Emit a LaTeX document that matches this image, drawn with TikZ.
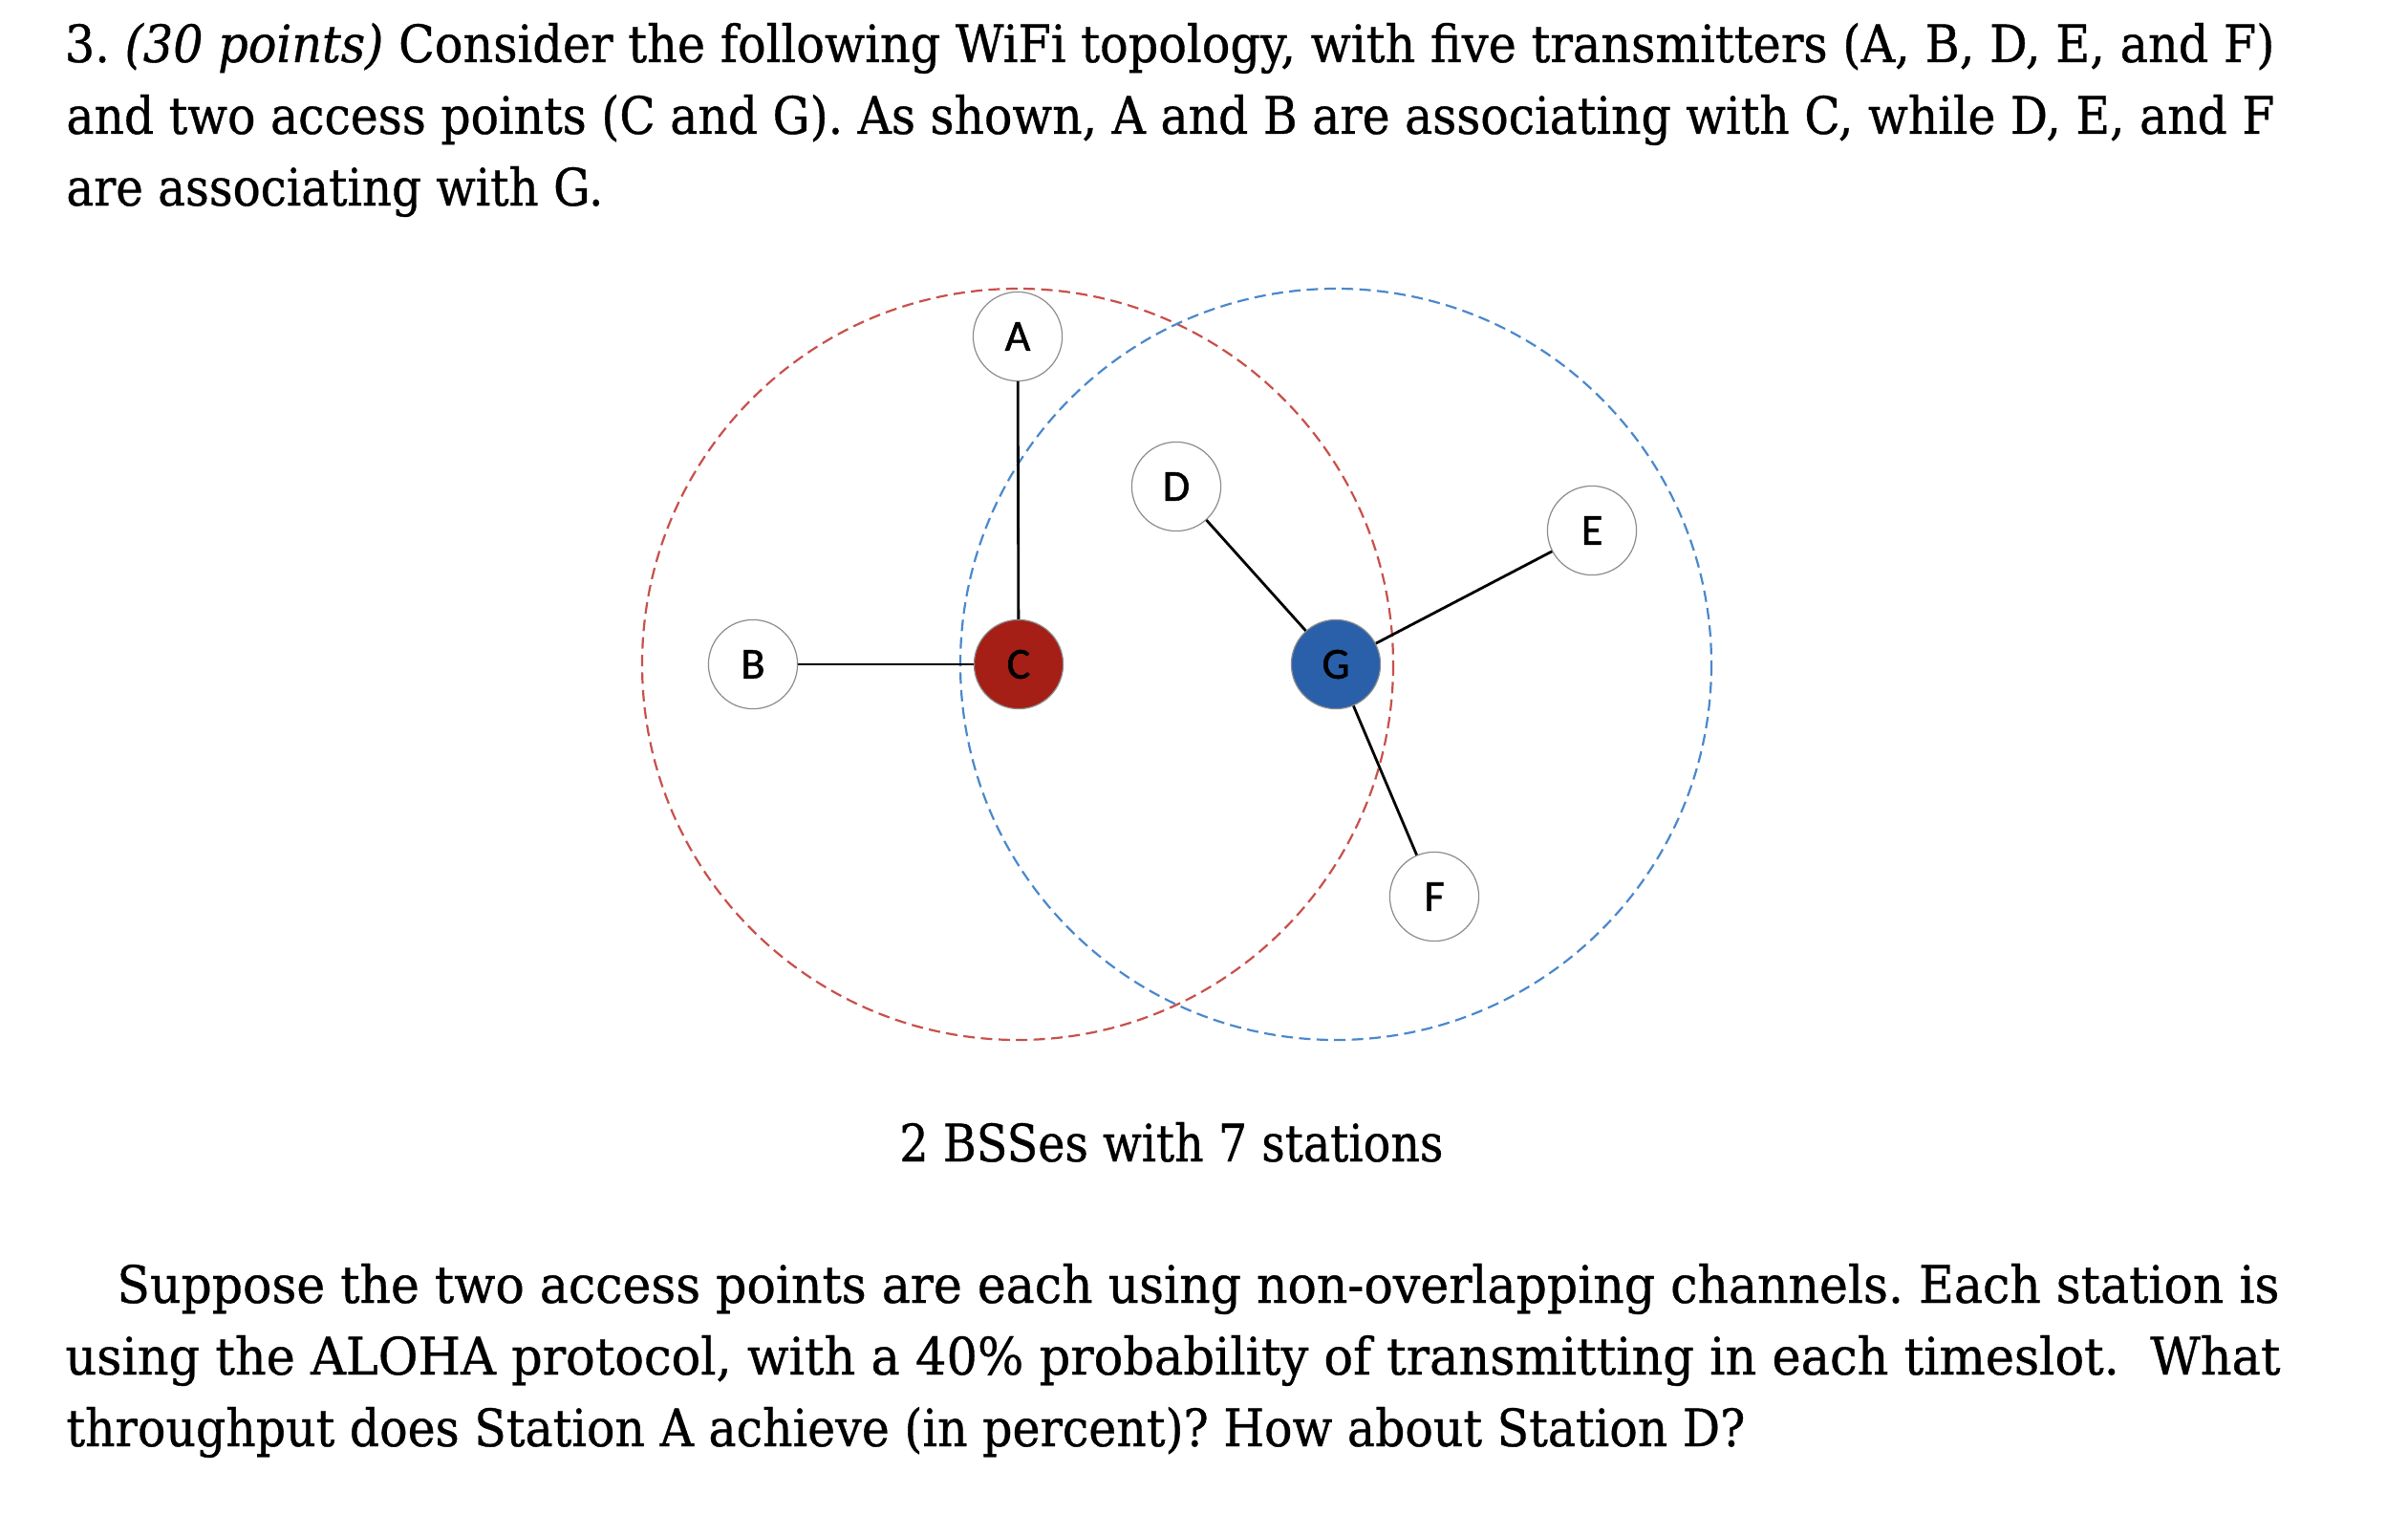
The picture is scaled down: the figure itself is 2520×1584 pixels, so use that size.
\documentclass[tikz,border=0pt]{standalone}
\usepackage{fontspec}
\usepackage{graphicx}
\setmainfont{DejaVu Serif}[FakeBold=0.7]
\newfontfamily\labfont{Carlito}[FakeBold=1.2]
\frenchspacing
\definecolor{redrange}{HTML}{C8504B}
\definecolor{bluerange}{HTML}{4A88CC}
\definecolor{apred}{HTML}{A51F16}
\definecolor{apblue}{HTML}{2A5FAA}
\definecolor{rimgray}{HTML}{8C8C8C}
\begin{document}
\begin{tikzpicture}[x=0.5pt,y=-0.5pt,
  txt/.style={anchor=base west, inner sep=0pt, font=\fontsize{27pt}{32pt}\selectfont},
  sta/.style={circle, draw=rimgray, line width=0.6pt, fill=white, minimum size=46.6pt, inner sep=0pt,
    font=\labfont\fontsize{23pt}{26pt}\selectfont},
  apred/.style={sta, fill=apred},
  apblue/.style={sta, fill=apblue},
  link/.style={line width=1.4pt, black},
  rangebox/.style={line width=1.1pt, dash pattern=on 6pt off 3.2pt}
]
\fill[white] (0,0) rectangle (2520,1584);
\useasboundingbox (0,0) rectangle (2520,1584);

% header text
\node[txt] (h1) at (67.5,65) {\resizebox{1156.25pt}{\height}{3. \textit{(30 points)} Consider the following WiFi topology, with five transmitters (A, B, D, E, and F)}};
\node[txt] (h2) at (69,140) {\resizebox{1155.5pt}{\height}{and two access points (C and G). As shown, A and B are associating with C, while D, E, and F}};
\node[txt] (h3) at (69,215) {\resizebox{281pt}{\height}{are associating with G.}};

% ranges
\draw[rangebox, redrange] (1065,695) circle [radius=393];
\draw[rangebox, bluerange] (1398,695) circle [radius=393];

% stations
\node[sta] (A) at (1065,352) {A};
\node[sta] (B) at (788,695) {B};
\node[apred] (C) at (1066,695) {C};
\node[sta] (D) at (1231,509) {D};
\node[sta] (E) at (1666,555) {E};
\node[sta] (F) at (1501,938) {F};
\node[apblue] (G) at (1398,695) {G};

\draw[link] (A) -- (C);
\draw[link] (B) -- (C);
\draw[link] (D) -- (G);
\draw[link] (E) -- (G);
\draw[link] (F) -- (G);

% caption
\node[txt] (cap) at (941,1215) {\resizebox{284.5pt}{\height}{2 BSSes with 7 stations}};

% body text
\node[txt] (b1) at (122,1363) {\resizebox{1131.5pt}{\height}{Suppose the two access points are each using non-overlapping channels. Each station is}};
\node[txt] (b2) at (68,1438) {\resizebox{1159pt}{\height}{using the ALOHA protocol, with a 40\% probability of transmitting in each timeslot.\ \ What}};
\node[txt] (b3) at (69,1513) {\resizebox{878.5pt}{\height}{throughput does Station A achieve (in percent)? How about Station D?}};
\end{tikzpicture}
\end{document}
